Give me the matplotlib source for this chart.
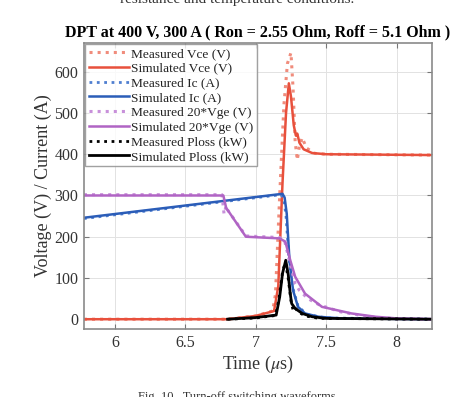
import matplotlib
matplotlib.use("Agg")
import matplotlib.pyplot as plt

plt.rcParams['font.family'] = ['Liberation Serif', 'DejaVu Serif']
plt.rcParams['mathtext.fontset'] = 'stix'

# ---- data (time in microseconds) ----
t_vce_sim = [5.78, 6.80, 7.00, 7.13, 7.16, 7.19, 7.215, 7.235, 7.25, 7.27, 7.285, 7.295, 7.31, 7.34, 7.40, 7.50, 8.25]
vce_sim = [0, 0, 8, 20, 80, 330, 500, 572, 540, 470, 445, 450, 428, 412, 403, 400, 398]

t_vce_meas = [5.78, 6.80, 7.00, 7.12, 7.14, 7.17, 7.20, 7.225, 7.25, 7.265, 7.28, 7.295, 7.31, 7.33, 7.36, 7.42, 7.50, 8.25]
vce_meas = [0, 0, 8, 20, 60, 300, 520, 620, 646, 560, 430, 386, 420, 440, 415, 402, 400, 398]

t_ic_sim = [5.78, 7.19, 7.205, 7.22, 7.24, 7.265, 7.30, 7.35, 7.445, 7.60, 8.25]
ic_sim = [246, 304, 295, 256, 140, 70, 30, 14, 6, 2, 0]

t_ic_meas = [5.78, 7.18, 7.20, 7.215, 7.235, 7.26, 7.30, 7.36, 7.50, 8.25]
ic_meas = [244, 302, 290, 250, 150, 80, 32, 12, 3, 0]

t_vge_sim = [5.78, 6.77, 6.79, 6.93, 7.17, 7.21, 7.245, 7.28, 7.35, 7.47, 7.68, 7.85, 8.00, 8.25]
vge_sim = [300, 300, 270, 200, 196, 188, 143, 103, 62, 30, 14, 6, 2, 0]

t_vge_meas = [5.78, 6.76, 6.775, 6.79, 6.80, 6.93, 7.17, 7.205, 7.24, 7.28, 7.31, 7.37, 7.45, 7.60, 7.80, 8.00, 8.25]
vge_meas = [302, 302, 255, 275, 265, 202, 198, 190, 140, 86, 70, 50, 35, 18, 6, 1, 0]

t_p_sim = [6.80, 7.00, 7.145, 7.17, 7.19, 7.213, 7.23, 7.245, 7.255, 7.28, 7.33, 7.40, 7.50, 8.25]
p_sim = [0, 4, 10, 54, 111, 143, 110, 62, 38, 26, 14, 6, 2, 0]

t_p_meas = [6.80, 7.00, 7.14, 7.165, 7.19, 7.21, 7.23, 7.25, 7.265, 7.28, 7.30, 7.35, 7.45, 8.25]
p_meas = [0, 3, 9, 50, 115, 138, 100, 45, 22, 28, 18, 8, 2, 0]

labels = ['Measured Vce (V)', 'Simulated Vce (V)', 'Measured Ic (A)', 'Simulated Ic (A)',
          'Measured 20*Vge (V)', 'Simulated 20*Vge (V)', 'Measured Ploss (kW)', 'Simulated Ploss (kW)']
x_ticks = [6, 6.5, 7, 7.5, 8]
y_ticks = [0, 100, 200, 300, 400, 500, 600]

fig = plt.figure(figsize=(4.74, 3.97), dpi=100)
ax = fig.add_axes([0.177, 0.171, 0.734, 0.721])

red, red_l = '#E8503C', '#F08C7C'
blue, blue_l = '#2B5DB8', '#4F7FD0'
purp, purp_l = '#B064C4', '#C890DA'

ax.plot(t_vce_meas, vce_meas, ':', color=red_l, lw=2.2, label=labels[0])
ax.plot(t_vce_sim, vce_sim, '-', color=red, lw=1.8, label=labels[1])
ax.plot(t_ic_meas, ic_meas, ':', color=blue_l, lw=2.0, label=labels[2])
ax.plot(t_ic_sim, ic_sim, '-', color=blue, lw=1.8, label=labels[3])
ax.plot(t_vge_meas, vge_meas, ':', color=purp_l, lw=2.2, label=labels[4])
ax.plot(t_vge_sim, vge_sim, '-', color=purp, lw=1.8, label=labels[5])
ax.plot(t_p_meas, p_meas, ':', color='black', lw=2.0, label=labels[6])
ax.plot(t_p_sim, p_sim, '-', color='black', lw=2.0, label=labels[7])

ax.set_xlim(5.78, 8.25)
ax.set_ylim(-24, 670)
ax.set_xticks(x_ticks)
ax.set_xticklabels(['6', '6.5', '7', '7.5', '8'])
ax.set_yticks(y_ticks)
ax.grid(True, color='#E2E2E2', lw=0.7)
ax.set_axisbelow(True)
for s in ax.spines.values():
    s.set_color('#8A8A8A')
    s.set_linewidth(1.2)
ax.tick_params(direction='in', length=3.5, width=0.8, color='#777777',
               top=True, right=True, labelsize=11.5, labelcolor='#333333', pad=4)

ax.set_xlabel(r'Time ($\mu$s)', fontsize=13, color='#333333', labelpad=2)
ax.set_ylabel('Voltage (V) / Current (A)', fontsize=13, color='#333333', labelpad=2)
ax.set_title('DPT at 400 V, 300 A ( Ron = 2.55 Ohm, Roff = 5.1 Ohm )',
             fontsize=11.5, fontweight='bold', pad=5)

leg = ax.legend(loc='upper left', fontsize=9.6, frameon=True, fancybox=False,
                borderaxespad=0.1, handlelength=3.0, handletextpad=0.2,
                labelspacing=0.18, borderpad=0.25)
leg.get_frame().set_edgecolor('#8A8A8A')
leg.get_frame().set_linewidth(1.0)
for txt in leg.get_texts():
    txt.set_color('#222222')

fig.text(0.5, 1.0, 'resistance and temperature conditions.', ha='center', va='center',
         fontsize=11, color='#333333')
fig.text(0.5, 0.0, 'Fig. 10.  Turn-off switching waveforms', ha='center', va='center',
         fontsize=9, color='#333333')

fig.savefig('out.png', dpi=100)
